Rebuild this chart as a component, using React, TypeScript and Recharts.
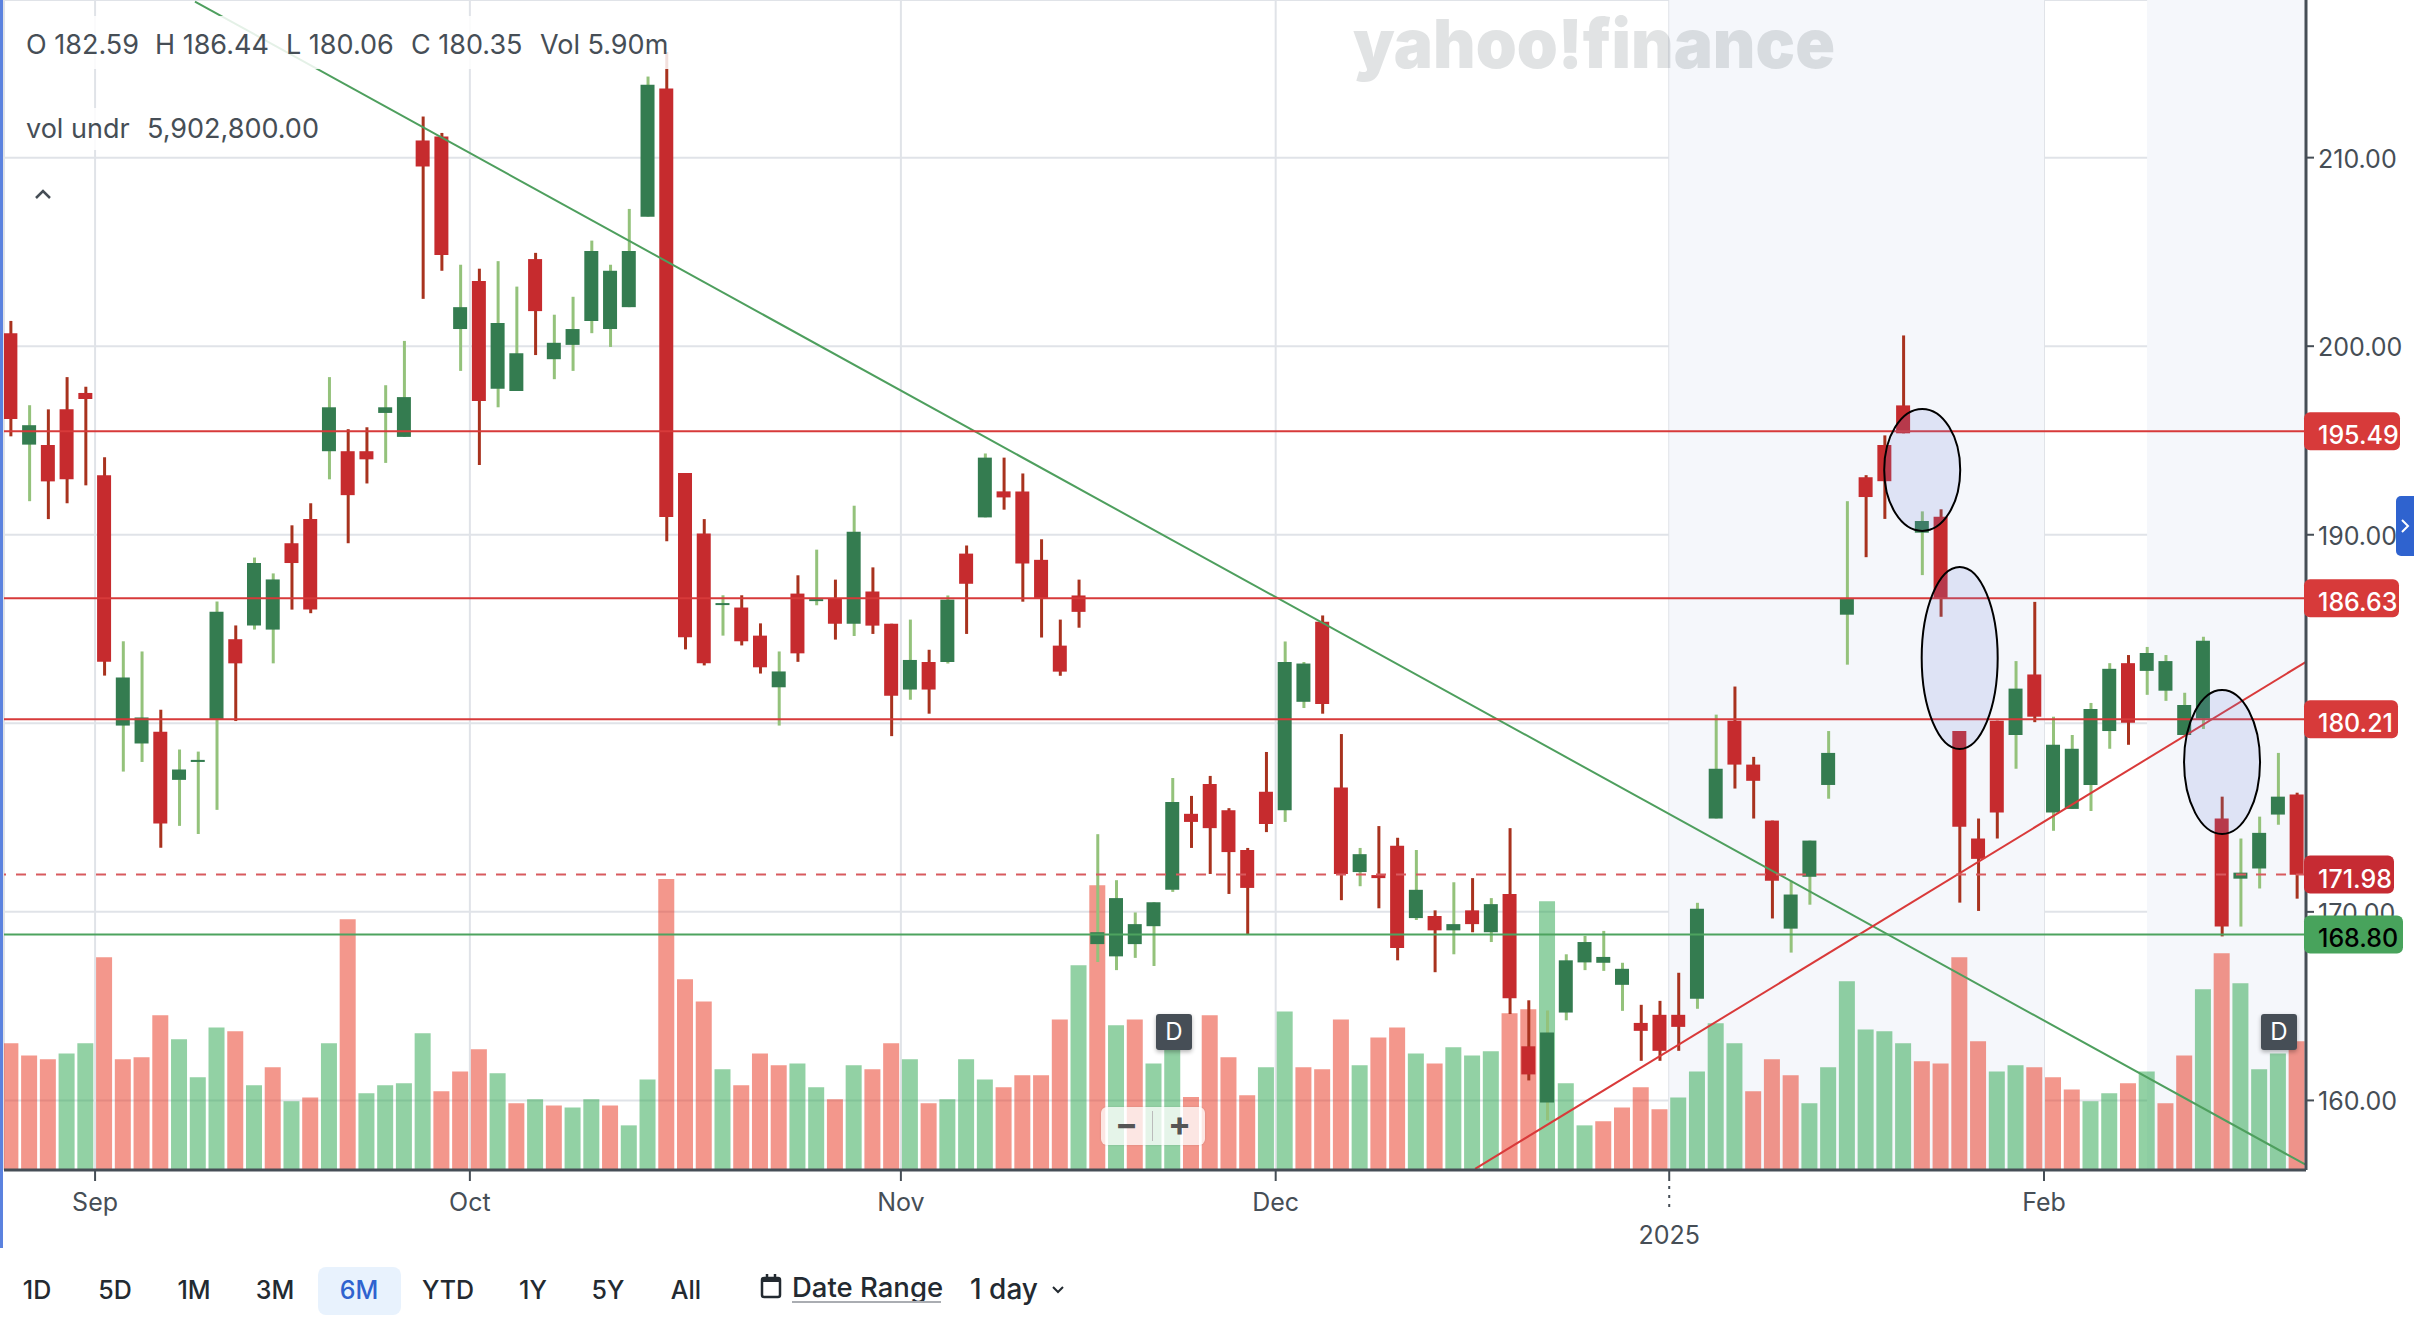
import React from 'react';
import {
  Bar,
  CartesianGrid,
  Cell,
  ComposedChart,
  ReferenceArea,
  ReferenceDot,
  ReferenceLine,
  XAxis,
  YAxis,
} from 'recharts';

// daily candles
const opens = [
  200.69, 194.78, 194.76, 196.65, 197.52, 193.16, 179.88, 178.93, 179.55, 177.0, 177.95, 180.23, 184.46, 185.19, 184.97,
  189.55, 190.83, 194.43, 194.43, 194.43, 196.46, 195.19, 210.91, 211.12, 200.91, 203.46, 197.74, 197.63, 204.62, 199.31,
  200.07, 201.34, 200.91, 202.07, 206.87, 213.67, 193.27, 190.07, 186.27, 186.14, 184.65, 181.91, 186.88, 186.48, 186.61,
  185.28, 186.99, 185.28, 181.79, 183.25, 183.25, 189.0, 190.92, 192.3, 192.3, 188.67, 184.12, 186.78, 168.29, 167.64,
  168.29, 169.24, 171.17, 175.2, 176.78, 175.39, 173.28, 176.37, 175.39, 181.14, 185.39, 176.59, 172.11, 171.95, 173.5,
  169.67, 169.78, 169.02, 170.08, 168.92, 170.95, 162.87, 159.89, 164.66, 167.32, 167.3, 166.13, 164.11, 164.54, 164.54,
  165.39, 174.95, 180.14, 177.81, 174.84, 169.11, 171.86, 176.73, 185.76, 193.05, 194.76, 196.86, 190.11, 190.95, 179.59,
  173.89, 180.14, 179.38, 182.59, 175.27, 175.46, 176.73, 179.59, 183.19, 182.78, 181.73, 179.38, 180.24, 174.95, 171.76,
  172.3, 175.16, 176.22,
];
const highs = [
  201.34, 196.87, 196.65, 198.36, 197.85, 194.11, 184.35, 183.81, 180.72, 178.61, 178.5, 186.46, 185.19, 188.79, 187.95,
  190.5, 191.67, 198.36, 195.6, 195.7, 197.93, 200.28, 212.18, 211.31, 204.32, 204.11, 204.51, 203.16, 204.95, 201.67,
  202.62, 205.6, 204.32, 207.28, 214.3, 215.6, 193.27, 190.83, 186.79, 186.79, 185.3, 183.81, 187.85, 189.21, 187.62,
  191.54, 188.27, 185.28, 185.5, 183.9, 186.78, 189.43, 194.31, 194.09, 193.25, 189.76, 185.5, 187.62, 174.12, 171.68,
  169.97, 170.51, 177.1, 176.15, 177.21, 175.5, 173.39, 178.48, 184.34, 183.25, 185.72, 179.43, 173.39, 174.55, 173.93,
  173.28, 170.08, 171.57, 171.79, 170.73, 174.44, 165.31, 164.77, 167.75, 168.73, 168.99, 167.3, 165.07, 165.28, 166.77,
  170.48, 180.46, 181.95, 178.22, 174.84, 171.65, 173.78, 179.59, 191.78, 193.16, 195.27, 200.57, 191.24, 191.35, 179.59,
  174.95, 180.14, 183.3, 186.44, 180.35, 179.38, 181.08, 183.19, 183.62, 184.05, 183.62, 181.62, 184.59, 176.11, 173.89,
  175.05, 178.43, 176.32,
];
const lows = [
  195.22, 191.78, 190.83, 191.67, 192.62, 182.53, 177.44, 177.95, 173.4, 174.56, 174.13, 175.41, 180.12, 184.97, 183.18,
  186.03, 185.84, 192.94, 189.55, 192.72, 193.81, 195.19, 202.51, 204.0, 198.69, 193.7, 196.76, 197.63, 199.53, 198.25,
  198.69, 200.69, 199.96, 202.07, 206.87, 189.66, 183.92, 183.07, 184.65, 184.13, 182.64, 179.88, 183.26, 186.26, 184.44,
  184.63, 184.74, 179.32, 181.25, 180.51, 183.17, 184.74, 190.92, 191.33, 186.45, 184.55, 182.52, 185.07, 167.34, 166.91,
  167.56, 167.13, 171.06, 173.39, 172.01, 170.95, 168.81, 174.23, 174.77, 180.81, 180.51, 170.62, 171.36, 170.19, 167.43,
  169.57, 166.8, 167.75, 168.92, 168.4, 164.58, 161.06, 158.94, 164.25, 166.91, 166.87, 164.75, 162.1, 162.1, 162.63,
  164.86, 174.95, 176.54, 174.95, 169.65, 167.84, 170.38, 176.0, 183.11, 188.81, 190.84, 195.38, 187.86, 185.65, 170.49,
  170.05, 173.89, 177.59, 180.06, 174.3, 175.46, 175.35, 178.65, 178.86, 181.51, 181.19, 179.38, 179.7, 168.7, 169.22,
  171.24, 174.62, 170.7,
];
const closes = [
  196.14, 195.81, 192.83, 192.94, 197.2, 183.26, 182.43, 180.31, 174.68, 177.55, 178.06, 185.92, 183.18, 188.5, 187.63,
  188.5, 186.03, 196.76, 192.1, 194.0, 196.76, 197.3, 209.53, 204.84, 202.07, 197.09, 201.23, 199.63, 201.86, 200.18,
  200.91, 205.05, 204.0, 205.05, 213.86, 190.94, 184.57, 183.18, 186.36, 184.35, 182.97, 182.75, 183.71, 186.56, 185.28,
  190.16, 185.18, 181.46, 183.36, 181.79, 186.56, 187.4, 194.09, 191.98, 188.48, 186.61, 182.74, 185.91, 168.92, 170.73,
  169.35, 170.51, 175.83, 174.77, 174.44, 173.17, 171.27, 174.66, 183.25, 183.17, 181.03, 172.01, 173.06, 171.79, 168.08,
  171.17, 169.02, 169.35, 169.35, 170.41, 165.42, 161.38, 163.6, 167.43, 168.4, 167.61, 166.98, 163.69, 162.63, 163.9,
  170.16, 177.59, 177.81, 176.95, 171.65, 170.92, 173.78, 178.43, 186.59, 192.0, 192.84, 195.38, 190.73, 186.65, 174.51,
  172.81, 175.27, 181.84, 180.35, 178.86, 178.65, 180.76, 182.89, 180.03, 183.73, 183.3, 180.97, 184.38, 169.22, 172.08,
  174.19, 176.11, 171.97,
];
// volume in millions
const volumes = [
  5.85, 5.29, 5.11, 5.38, 5.85, 9.82, 5.11, 5.2, 7.14, 6.03, 4.28, 6.58, 6.4, 3.91, 4.74, 3.17, 3.35, 5.85, 11.57, 3.54,
  3.91, 4.0, 6.31, 3.63, 4.55, 5.57, 4.46, 3.08, 3.26, 2.98, 2.89, 3.26, 2.98, 2.06, 4.18, 13.43, 8.8, 7.78, 4.65, 3.91,
  5.38, 4.83, 4.92, 3.82, 3.26, 4.83, 4.65, 5.85, 5.11, 3.08, 3.26, 5.11, 4.18, 3.82, 4.37, 4.37, 6.95, 9.45, 13.14, 6.68,
  6.95, 4.92, 6.12, 3.37, 7.14, 5.2, 3.45, 4.74, 7.32, 4.74, 4.65, 6.95, 4.83, 6.12, 6.58, 5.38, 4.92, 5.66, 5.29, 5.48,
  7.23, 7.42, 12.4, 4.0, 2.06, 2.25, 2.89, 3.82, 2.8, 3.35, 4.55, 6.77, 5.85, 3.63, 5.11, 4.37, 3.08, 4.74, 8.71, 6.49,
  6.4, 5.85, 5.02, 4.92, 9.82, 5.94, 4.55, 4.83, 4.74, 4.28, 3.72, 3.17, 3.54, 4.0, 4.55, 3.08, 5.29, 8.34, 10.0, 8.62,
  4.65, 5.38, 5.94,
];
const volumeSides =
  'rrrggrrrrg' + 'ggrgrgrgrg' + 'gggrrrgrgr' + 'ggrggrrrgr' + 'rrggrgrrgr' + 'gggrrrrgrg' +
  'rggrrrrggr' + 'rrgrrgrggg' + 'rrgggrrrrg' + 'gggrrrgggg' + 'ggrrrrggrr' + 'rggrgrrgrg' + 'ggr';

const monthTicks = [4.5, 24.5, 47.5, 67.5, 88.5, 108.5];
const monthLabels = ['Sep', 'Oct', 'Nov', 'Dec', '2025', 'Feb'];
const priceTicks = [160, 170, 180, 190, 200, 210];
const rangeButtons = ['1D', '5D', '1M', '3M', '6M', 'YTD', '1Y', '5Y', 'All'];
const rangeCenters = [37, 115, 194, 275, 359, 448, 533, 608, 686];

const levels = [
  { price: 195.49, fill: '#d73a3a', line: '#d73a3a', text: '#fff', w: 96 },
  { price: 186.63, fill: '#d73a3a', line: '#d73a3a', text: '#fff', w: 95 },
  { price: 180.21, fill: '#d73a3a', line: '#d73a3a', text: '#fff', w: 94 },
  { price: 171.98, fill: '#c62b33', line: '#d85a5e', text: '#fff', w: 90, dash: '10 10' },
  { price: 168.8, fill: '#48a35c', line: '#4da35f', text: '#000', w: 99 },
];
const shaded = [[88.5, 108.5], [114.0, 122.48]];
const ovals = [
  { i: 102, price: 193.44, ry: 61 },
  { i: 104, price: 183.46, ry: 91 },
  { i: 118, price: 177.95, ry: 72 },
];
const greenTrend = [{ x: 9.83, y: 218.28 }, { x: 122.46, y: 156.59 }];
const redTrend = [{ x: 78.14, y: 156.37 }, { x: 122.48, y: 183.26 }];

const rows = opens.map((o, i) => ({
  i,
  volume: volumes[i],
  wick: [lows[i], highs[i]],
  body: [Math.min(o, closes[i]), Math.max(o, closes[i])],
  up: closes[i] >= o,
}));

const xDomain = [-0.36, 122.48];
const yDomain = [156.31, 218.36];
const volGreen = 'rgba(37,163,73,0.5)';
const volRed = 'rgba(231,47,25,0.5)';
const font = 'Inter, sans-serif';
const ink = '#464e56';

const MonthTick = ({ x, payload }: any) => {
  const k = monthTicks.indexOf(payload.value);
  const isYear = monthLabels[k] === '2025';
  return (
    <g>
      {isYear && <line x1={x} x2={x} y1={1186} y2={1209} stroke={ink} strokeWidth={2} strokeDasharray="3 6" />}
      <text x={x} y={isYear ? 1244 : 1211} textAnchor="middle" fontFamily={font} fontSize={25} fill={ink}>
        {monthLabels[k]}
      </text>
    </g>
  );
};

const PriceTick = ({ y, payload }: any) => (
  <text x={2318} y={y + 10} fontFamily={font} fontSize={25} fill={ink}>
    {payload.value.toFixed(2)}
  </text>
);

const tag = (price: number, fill: string, text: string, w: number) => (p: any) => {
  const y = p.viewBox.y;
  return (
    <g>
      <rect x={2304} y={y - 19} width={w} height={38} rx={6} fill={fill} />
      <text x={2318} y={y + 13} fontFamily={font} fontSize={25} fontWeight={500} fill={text}>
        {price.toFixed(2)}
      </text>
    </g>
  );
};

const Oval = ({ cx, cy, ry }: any) => (
  <ellipse cx={cx} cy={cy} rx={38} ry={ry} fill="rgba(110,130,220,0.17)" stroke="#000" strokeWidth={2} />
);

const box = (left: number, top: number, width: number, height: number, extra: React.CSSProperties = {}) => ({
  position: 'absolute' as const,
  left,
  top,
  width,
  height,
  ...extra,
});

const Label = ({ x, y, children, size = 27, color = ink, weight = 400 }: any) => (
  <div
    style={{
      position: 'absolute',
      left: x,
      top: y,
      fontFamily: font,
      fontSize: size,
      fontWeight: weight,
      color,
      lineHeight: 1,
      whiteSpace: 'nowrap',
    }}
  >
    {children}
  </div>
);

const Badge = ({ x }: { x: number }) => (
  <div
    style={box(x, 1014, 36, 36, {
      background: ink,
      borderRadius: 3,
      boxShadow: '0 2px 4px rgba(0,0,0,0.3)',
      color: '#fff',
      fontFamily: font,
      fontSize: 24,
      lineHeight: '36px',
      textAlign: 'center',
    })}
  >
    D
  </div>
);

export default function App() {
  return (
    <div style={box(0, 0, 2414, 1320, { background: '#fff', overflow: 'hidden' })}>
      <ComposedChart
        width={2414}
        height={1320}
        data={rows}
        margin={{ top: 0, right: 0, bottom: 0, left: 4 }}
        barGap={0}
      >
        <XAxis
          xAxisId="x"
          type="number"
          dataKey="i"
          domain={xDomain}
          allowDataOverflow
          ticks={monthTicks}
          interval={0}
          height={150}
          tick={<MonthTick />}
          tickSize={11}
          axisLine={{ stroke: ink, strokeWidth: 3 }}
          tickLine={{ stroke: ink, strokeWidth: 2 }}
        />
        <XAxis xAxisId="wickX" type="number" dataKey="i" domain={xDomain} allowDataOverflow hide height={0} />
        <XAxis xAxisId="bodyX" type="number" dataKey="i" domain={xDomain} allowDataOverflow hide height={0} />
        <YAxis
          yAxisId="price"
          orientation="right"
          width={108}
          domain={yDomain}
          allowDataOverflow
          ticks={priceTicks}
          interval={0}
          tick={<PriceTick />}
          tickSize={8}
          axisLine={{ stroke: ink, strokeWidth: 3 }}
          tickLine={{ stroke: ink, strokeWidth: 2 }}
        />
        <YAxis yAxisId="vol" hide domain={[0, 54]} allowDataOverflow width={0} />

        {shaded.map(([a, b]) => (
          <ReferenceArea
            key={a}
            xAxisId="x"
            yAxisId="price"
            x1={a}
            x2={b}
            fill="#f5f7fb"
            fillOpacity={1}
            stroke="none"
            ifOverflow="visible"
          />
        ))}
        <CartesianGrid xAxisId="x" yAxisId="price" stroke="#e0e3e8" strokeWidth={2} />

        <Bar xAxisId="x" yAxisId="vol" dataKey="volume" barSize={16} isAnimationActive={false}>
          {rows.map((r) => (
            <Cell key={r.i} fill={volumeSides[r.i] === 'g' ? volGreen : volRed} />
          ))}
        </Bar>
        <Bar xAxisId="wickX" yAxisId="price" dataKey="wick" barSize={3} isAnimationActive={false}>
          {rows.map((r) => (
            <Cell key={r.i} fill={r.up ? '#94c27b' : '#a8321e'} />
          ))}
        </Bar>
        <Bar xAxisId="bodyX" yAxisId="price" dataKey="body" barSize={14} minPointSize={2} isAnimationActive={false}>
          {rows.map((r) => (
            <Cell key={r.i} fill={r.up ? '#347c50' : '#c62b2e'} />
          ))}
        </Bar>

        <ReferenceLine
          xAxisId="x"
          yAxisId="price"
          segment={greenTrend}
          stroke="#4e9f5e"
          strokeWidth={2}
          ifOverflow="visible"
        />
        <ReferenceLine
          xAxisId="x"
          yAxisId="price"
          segment={redTrend}
          stroke="#d93a3a"
          strokeWidth={2}
          ifOverflow="visible"
        />
        {levels.map((l) => (
          <ReferenceLine
            key={l.price}
            xAxisId="x"
            yAxisId="price"
            y={l.price}
            stroke={l.line}
            strokeWidth={2}
            strokeDasharray={l.dash}
          />
        ))}
        {ovals.map((o) => (
          <ReferenceDot
            key={o.i}
            xAxisId="x"
            yAxisId="price"
            x={o.i}
            y={o.price}
            ifOverflow="visible"
            shape={(p: any) => <Oval cx={p.cx} cy={p.cy} ry={o.ry} />}
          />
        ))}
      </ComposedChart>

      {/* second chart on top so the price tags cover the axis tick labels */}
      <div style={box(0, 0, 2414, 1320)}>
        <ComposedChart width={2414} height={1320} data={rows} margin={{ top: 0, right: 108, bottom: 150, left: 4 }}>
          <XAxis xAxisId="x" type="number" dataKey="i" domain={xDomain} allowDataOverflow hide height={0} />
          <YAxis yAxisId="price" domain={yDomain} allowDataOverflow hide width={0} />
          {levels.map((l) => (
            <ReferenceLine
              key={l.price}
              xAxisId="x"
              yAxisId="price"
              y={l.price}
              stroke="none"
              label={tag(l.price, l.fill, l.text, l.w)}
            />
          ))}
        </ComposedChart>
      </div>

      {/* everything around the plot: readout, watermark, controls */}
      <div style={box(0, 0, 3, 1248, { background: '#5b82df' })} />
      <div style={box(20, 16, 650, 53, { background: 'rgba(255,255,255,0.85)' })} />
      <div style={box(20, 108, 305, 42, { background: 'rgba(255,255,255,0.85)' })} />
      <Label x={26} y={31}>O 182.59</Label>
      <Label x={155} y={31}>H 186.44</Label>
      <Label x={286} y={31}>L 180.06</Label>
      <Label x={411} y={31}>C 180.35</Label>
      <Label x={540} y={31}>Vol 5.90m</Label>
      <Label x={26} y={115}>vol undr</Label>
      <Label x={147} y={115}>5,902,800.00</Label>
      <svg style={box(34, 188, 18, 12)}>
        <polyline points="2,10 9,3 16,10" fill="none" stroke={ink} strokeWidth={2.5} />
      </svg>
      <svg style={box(1340, 0, 520, 100)}>
        <text
          x={13}
          y={68}
          fontFamily={font}
          fontSize={68}
          fontWeight={900}
          fill="rgba(70,78,86,0.16)"
          textLength={482}
          lengthAdjust="spacingAndGlyphs"
        >
          yahoo!finance
        </text>
      </svg>

      <Badge x={1156} />
      <Badge x={2261} />
      <div
        style={box(1101, 1107, 104, 38, {
          background: 'rgba(255,255,255,0.76)',
          borderRadius: 6,
          boxShadow: '0 0 2px rgba(0,0,0,0.15)',
        })}
      />
      <Label x={1115} y={1107} size={34} weight={700} color="#555">−</Label>
      <div style={box(1152, 1111, 1, 30, { background: '#bbb' })} />
      <Label x={1168} y={1107} size={34} weight={700} color="#555">+</Label>

      <div style={box(2396, 496, 18, 60, { background: '#2f63cf', borderRadius: '5px 0 0 5px' })} />
      <svg style={box(2400, 518, 12, 16)}>
        <polyline points="2,2 8,8 2,14" fill="none" stroke="#fff" strokeWidth={2} />
      </svg>

      <div style={box(318, 1267, 83, 48, { background: '#e8f2fd', borderRadius: 8 })} />
      {rangeButtons.map((b, k) => (
        <div
          key={b}
          style={{
            position: 'absolute',
            left: rangeCenters[k] - 40,
            width: 80,
            top: 1278,
            textAlign: 'center',
            fontFamily: font,
            fontSize: 25,
            fontWeight: 500,
            lineHeight: 1,
            color: b === '6M' ? '#2f63cf' : '#232a31',
          }}
        >
          {b}
        </div>
      ))}
      <svg style={box(759, 1272, 24, 28)}>
        <rect x={3} y={6} width={18} height={19} rx={2} fill="none" stroke="#232a31" strokeWidth={2.5} />
        <line x1={3} x2={21} y1={8} y2={8} stroke="#232a31" strokeWidth={4} />
        <line x1={8} x2={8} y1={2} y2={6} stroke="#232a31" strokeWidth={2.5} />
        <line x1={16} x2={16} y1={2} y2={6} stroke="#232a31" strokeWidth={2.5} />
      </svg>
      <Label x={792} y={1274} size={27.5} weight={500} color="#232a31">Date Range</Label>
      <div style={box(792, 1301, 149, 2, { background: '#aaadb2' })} />
      <Label x={970} y={1275} size={28} weight={500} color="#232a31">1 day</Label>
      <svg style={box(1051, 1285, 14, 10)}>
        <polyline points="2,2 7,7 12,2" fill="none" stroke="#232a31" strokeWidth={2} />
      </svg>
    </div>
  );
}
